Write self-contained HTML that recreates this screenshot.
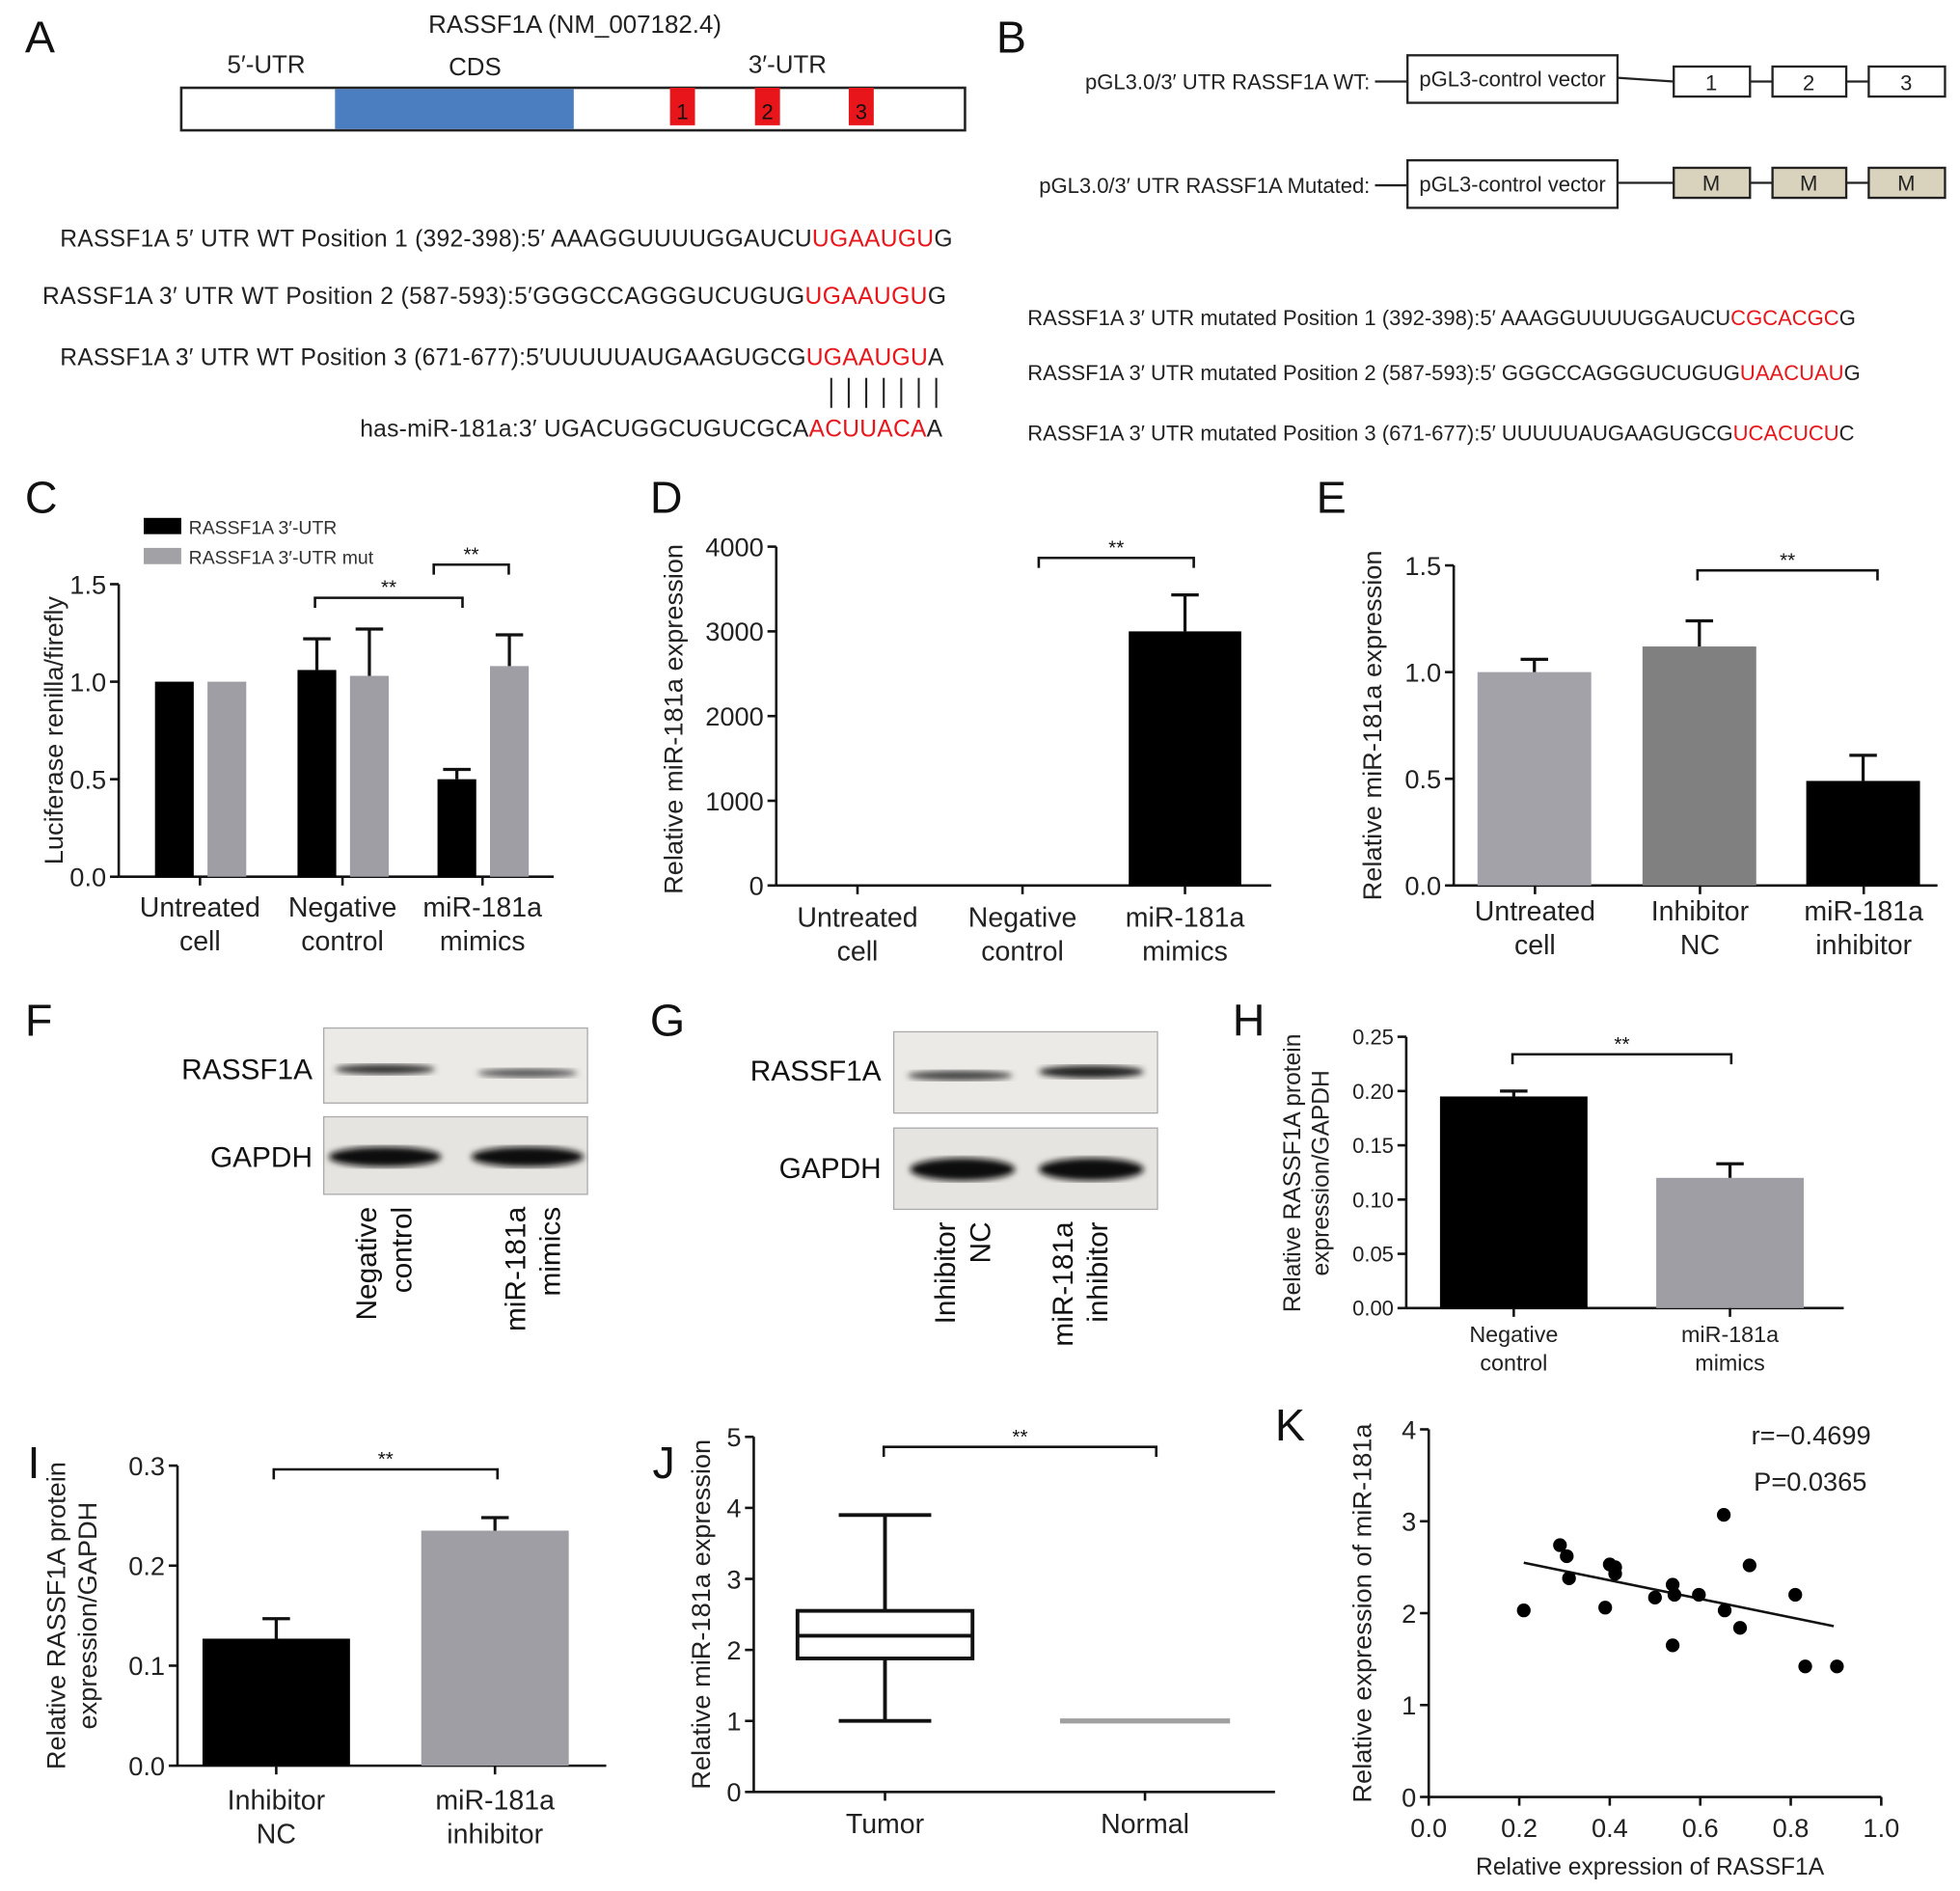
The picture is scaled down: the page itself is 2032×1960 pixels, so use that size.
<!DOCTYPE html>
<html><head><meta charset="utf-8"><style>
html,body{margin:0;padding:0;background:#fff}
svg{display:block;font-family:"Liberation Sans",Arial,sans-serif}
</style></head><body>
<svg id="fig" width="2032" height="1960" viewBox="0 0 1568 1512" xmlns="http://www.w3.org/2000/svg">
<g font-size="36" fill="#111">
<text x="20" y="42">A</text><text x="797" y="42">B</text><text x="20" y="410">C</text><text x="520" y="410">D</text><text x="1053" y="410">E</text>
<text x="20" y="828">F</text><text x="520" y="828">G</text><text x="986" y="828">H</text><text x="22" y="1182">I</text><text x="522" y="1182">J</text><text x="1020" y="1152">K</text>
</g>
<!-- Panel A -->
<g font-size="20" fill="#222">
<text x="460" y="26" text-anchor="middle">RASSF1A (NM_007182.4)</text>
<text x="213" y="58" text-anchor="middle">5′-UTR</text>
<text x="380" y="60" text-anchor="middle">CDS</text>
<text x="630" y="58" text-anchor="middle">3′-UTR</text>
<rect x="145" y="70" width="627" height="34" fill="#fff" stroke="#222" stroke-width="2"/>
<rect x="268" y="71" width="191" height="32" fill="#4a7ec0"/>
<rect x="536" y="70" width="20" height="30" fill="#e8161b"/><text x="546" y="95" text-anchor="middle" font-size="17" fill="#111">1</text>
<rect x="604" y="70" width="20" height="30" fill="#e8161b"/><text x="614" y="95" text-anchor="middle" font-size="17" fill="#111">2</text>
<rect x="679" y="70" width="20" height="30" fill="#e8161b"/><text x="689" y="95" text-anchor="middle" font-size="17" fill="#111">3</text>
<g font-size="19">
<text x="48" y="197" textLength="714" lengthAdjust="spacing">RASSF1A 5′ UTR WT Position 1 (392-398):5′ AAAGGUUUUGGAUCU<tspan fill="#e8161b">UGAAUGU</tspan>G</text>
<text x="34" y="243" textLength="723" lengthAdjust="spacing">RASSF1A 3′ UTR WT Position 2 (587-593):5′GGGCCAGGGUCUGUG<tspan fill="#e8161b">UGAAUGU</tspan>G</text>
<text x="48" y="292" textLength="707" lengthAdjust="spacing">RASSF1A 3′ UTR WT Position 3 (671-677):5′UUUUUAUGAAGUGCG<tspan fill="#e8161b">UGAAUGU</tspan>A</text>
<text x="288" y="349" textLength="466" lengthAdjust="spacing">has-miR-181a:3′ UGACUGGCUGUCGCA<tspan fill="#e8161b">ACUUACA</tspan>A</text>
</g>
<g stroke="#222" stroke-width="1.6">
<line x1="665" y1="302" x2="665" y2="326"/><line x1="679" y1="302" x2="679" y2="326"/><line x1="693" y1="302" x2="693" y2="326"/><line x1="707" y1="302" x2="707" y2="326"/><line x1="721" y1="302" x2="721" y2="326"/><line x1="735" y1="302" x2="735" y2="326"/><line x1="749" y1="302" x2="749" y2="326"/>
</g>
</g>
<!-- Panel B -->
<g font-size="17" fill="#222">
<text x="1096" y="71" text-anchor="end">pGL3.0/3′ UTR RASSF1A WT:</text>
<text x="1096" y="154" text-anchor="end">pGL3.0/3′ UTR RASSF1A Mutated:</text>
<g stroke="#222" stroke-width="1.8" fill="none">
<line x1="1100" y1="65" x2="1126" y2="65"/><line x1="1294" y1="62" x2="1339" y2="65"/><line x1="1400" y1="65" x2="1418" y2="65"/><line x1="1477" y1="65" x2="1495" y2="65"/>
<line x1="1100" y1="148" x2="1126" y2="148"/><line x1="1294" y1="146" x2="1339" y2="146"/><line x1="1400" y1="146" x2="1418" y2="146"/><line x1="1477" y1="146" x2="1495" y2="146"/>
<rect x="1126" y="44" width="168" height="38" fill="#fff"/><rect x="1126" y="128" width="168" height="38" fill="#fff"/>
<rect x="1339" y="53" width="61" height="24" fill="#fff"/><rect x="1418" y="53" width="59" height="24" fill="#fff"/><rect x="1495" y="53" width="61" height="24" fill="#fff"/>
<rect x="1339" y="134" width="61" height="24" fill="#d9d3bd"/><rect x="1418" y="134" width="59" height="24" fill="#d9d3bd"/><rect x="1495" y="134" width="61" height="24" fill="#d9d3bd"/>
</g>
<text x="1210" y="69" text-anchor="middle">pGL3-control vector</text><text x="1210" y="153" text-anchor="middle">pGL3-control vector</text>
<text x="1369" y="72" text-anchor="middle">1</text><text x="1447" y="72" text-anchor="middle">2</text><text x="1525" y="72" text-anchor="middle">3</text>
<text x="1369" y="152" text-anchor="middle">M</text><text x="1447" y="152" text-anchor="middle">M</text><text x="1525" y="152" text-anchor="middle">M</text>
<text x="822" y="260">RASSF1A 3′ UTR mutated Position 1 (392-398):5′  AAAGGUUUUGGAUCU<tspan fill="#e8161b">CGCACGC</tspan>G</text>
<text x="822" y="304">RASSF1A 3′ UTR mutated Position 2 (587-593):5′  GGGCCAGGGUCUGUG<tspan fill="#e8161b">UAACUAU</tspan>G</text>
<text x="822" y="352">RASSF1A 3′ UTR mutated Position 3 (671-677):5′  UUUUUAUGAAGUGCG<tspan fill="#e8161b">UCACUCU</tspan>C</text>
</g>
<!-- Panel F / G blots -->
<defs>
<filter id="blur"><feGaussianBlur stdDeviation="2.5"/></filter>
</defs>
<g font-size="23" fill="#111">
<rect x="259" y="822" width="211" height="60" fill="#eceae6" stroke="#aaa"/>
<rect x="259" y="893" width="211" height="62" fill="#e6e4e0" stroke="#aaa"/>
<ellipse cx="308" cy="855" rx="40" ry="4" fill="#333" filter="url(#blur)"/><ellipse cx="422" cy="858" rx="40" ry="3.5" fill="#555" filter="url(#blur)"/>
<ellipse cx="308" cy="925" rx="45" ry="8" fill="#111" filter="url(#blur)"/><ellipse cx="422" cy="925" rx="45" ry="8" fill="#111" filter="url(#blur)"/>
<text x="250" y="863" text-anchor="end">RASSF1A</text><text x="250" y="933" text-anchor="end">GAPDH</text>
<text transform="translate(301,965) rotate(-90)" text-anchor="end">Negative</text><text transform="translate(329,965) rotate(-90)" text-anchor="end">control</text>
<text transform="translate(420,965) rotate(-90)" text-anchor="end">miR-181a</text><text transform="translate(448,965) rotate(-90)" text-anchor="end">mimics</text>
</g>
<g font-size="23" fill="#111">
<rect x="715" y="825" width="211" height="65" fill="#eceae6" stroke="#aaa"/>
<rect x="715" y="902" width="211" height="65" fill="#e6e4e0" stroke="#aaa"/>
<ellipse cx="768" cy="860" rx="42" ry="4" fill="#444" filter="url(#blur)"/><ellipse cx="873" cy="857" rx="42" ry="5" fill="#222" filter="url(#blur)"/>
<ellipse cx="770" cy="935" rx="42" ry="9" fill="#111" filter="url(#blur)"/><ellipse cx="873" cy="935" rx="42" ry="9" fill="#111" filter="url(#blur)"/>
<text x="705" y="864" text-anchor="end">RASSF1A</text><text x="705" y="942" text-anchor="end">GAPDH</text>
<text transform="translate(764,977) rotate(-90)" text-anchor="end">Inhibitor</text><text transform="translate(792,977) rotate(-90)" text-anchor="end">NC</text>
<text transform="translate(858,977) rotate(-90)" text-anchor="end">miR-181a</text><text transform="translate(886,977) rotate(-90)" text-anchor="end">inhibitor</text>
</g>
<g id="charts"></g>
</svg>
<script>
// ---- data ----
const cCategories=["Untreated|cell","Negative|control","miR-181a|mimics"];
const cUtr=[1.0,1.06,0.5];
const cUtrErr=[1.0,1.22,0.55];
const cMut=[1.0,1.03,1.08];
const cMutErr=[1.0,1.27,1.24];
const cTicks=["0.0","0.5","1.0","1.5"];
const dCategories=["Untreated|cell","Negative|control","miR-181a|mimics"];
const dValues=[1,1,3000];
const dErr=[1,1,3430];
const dTicks=["0","1000","2000","3000","4000"];
const eCategories=["Untreated|cell","Inhibitor|NC","miR-181a|inhibitor"];
const eValues=[1.0,1.12,0.49];
const eErr=[1.06,1.24,0.61];
const eTicks=["0.0","0.5","1.0","1.5"];
const hCategories=["Negative|control","miR-181a|mimics"];
const hValues=[0.195,0.12];
const hErr=[0.2,0.133];
const hTicks=["0.00","0.05","0.10","0.15","0.20","0.25"];
const iCategories=["Inhibitor|NC","miR-181a|inhibitor"];
const iValues=[0.127,0.235];
const iErr=[0.147,0.248];
const iTicks=["0.0","0.1","0.2","0.3"];
const jCategories=["Tumor","Normal"];
const jTumor=[1.0,1.88,2.2,2.55,3.9];
const jNormal=[1.0,1.0,1.0,1.0,1.0];
const jTicks=["0","1","2","3","4","5"];
const kX=[0.21,0.29,0.305,0.31,0.39,0.40,0.412,0.412,0.50,0.539,0.543,0.539,0.597,0.652,0.654,0.688,0.709,0.81,0.832,0.902];
const kY=[2.03,2.74,2.62,2.38,2.06,2.53,2.50,2.43,2.17,2.31,2.20,1.65,2.20,3.07,2.03,1.84,2.52,2.20,1.42,1.42];
const kFit=[2.76,-1.007];
const kFitRange=[0.21,0.895];
const kXTicks=["0.0","0.2","0.4","0.6","0.8","1.0"];
const kYTicks=["0","1","2","3","4"];

const NS="http://www.w3.org/2000/svg";
const root=document.getElementById('charts');
function el(tag,attrs,parent,txt){const e=document.createElementNS(NS,tag);for(const k in attrs)e.setAttribute(k,attrs[k]);if(txt!==undefined)e.textContent=txt;(parent||root).appendChild(e);return e;}
function line(g,x1,y1,x2,y2,w){const l=el('line',{x1,y1,x2,y2,stroke:'#111','stroke-width':w||2},g);return l;}

function axes(g,x0,y0,y1,x1,ticks,ymax,fs,title,titleX,titleY,tfs){
  const sy=v=>y0-(v/ymax)*(y0-y1);
  line(g,x0,y1,x0,y0);line(g,x0,y0,x1,y0);
  ticks.forEach(t=>{const y=sy(parseFloat(t));line(g,x0-7,y,x0,y);
    const tx=el('text',{x:x0-10,y:y+fs*0.36,'text-anchor':'end','font-size':fs,fill:'#222'},g,t);
    
    });
  const f2=tfs||fs;
  if(title){const lines=title.split('|');lines.forEach((s,i)=>{
    const t=el('text',{transform:`translate(${titleX+i*(f2+4)},${titleY}) rotate(-90)`,'text-anchor':'middle','font-size':f2,fill:'#222'},g,s);
    
    });}
  return sy;
}
function xlabels(g,cats,xs,y,fs,tickY){
  cats.forEach((c,i)=>{ if(tickY) line(g,xs[i],tickY,xs[i],tickY+7);
    c.split('|').forEach((s,j)=>{const t=el('text',{x:xs[i],y:y+j*(fs+5),'text-anchor':'middle','font-size':fs,fill:'#222'},g,s);
    
    });});
}
function bar(g,x,w,v,e,sy,fill,name){
  const r=el('rect',{x,y:sy(v),width:w,height:sy(0)-sy(v),fill},g);
  
  
  if(e>v){const cx=x+w/2;line(g,cx,sy(v),cx,sy(e),2.5);line(g,cx-11,sy(e),cx+11,sy(e),2.5);}
}
function bracket(g,x1,x2,y,fs){
  el('path',{d:`M${x1},${y+8}V${y}H${x2}V${y+8}`,fill:'none',stroke:'#111','stroke-width':2},g);
  const t=el('text',{x:(x1+x2)/2,y:y-3,'text-anchor':'middle','font-size':fs||16,fill:'#111'},g,'**');
  
  
}
function grp(name){const g=el('g',{});return g;}

// Panel C
(function(){const g=grp('panel-c-chart');
 const sy=axes(g,95,701,467,443,cTicks,1.5,21,'Luciferase renilla/firefly',50,584);
 const gx=[160,274,386];
 cCategories.forEach((c,i)=>{bar(g,gx[i]-36,31,cUtr[i],cUtrErr[i],sy,'#000','bar-utr');bar(g,gx[i]+6,31,cMut[i],cMutErr[i],sy,'#9e9ea4','bar-utr-mut');});
 xlabels(g,cCategories,gx,733,22,701);
 bracket(g,252,370,sy(1.43),16);bracket(g,347,407,sy(1.6),16);
 const l1=el('rect',{x:115,y:414,width:30,height:13,fill:'#000'},g);
 const l2=el('rect',{x:115,y:438,width:30,height:13,fill:'#a2a2a6'},g);
 const t1=el('text',{x:151,y:427,'font-size':15,fill:'#333'},g,'RASSF1A 3′-UTR');
 const t2=el('text',{x:151,y:451,'font-size':15,fill:'#333'},g,'RASSF1A 3′-UTR mut');
})();
// Panel D
(function(){const g=grp('panel-d-chart');
 const sy=axes(g,621,708,437,1017,dTicks,4000,21,'Relative miR-181a expression',546,575);
 const cx=[686,818,948];
 dCategories.forEach((c,i)=>bar(g,cx[i]-45,90,dValues[i],dErr[i],sy,'#000','bar-d'));
 xlabels(g,dCategories,cx,741,22,708);
 bracket(g,831,955,446,16);
})();
// Panel E
(function(){const g=grp('panel-e-chart');
 const sy=axes(g,1163,708,452,1550,eTicks,1.5,21,'Relative miR-181a expression',1105,580);
 const cx=[1228,1360,1491];const cols=['#a2a2a8','#808080','#000'];
 eCategories.forEach((c,i)=>bar(g,cx[i]-46,91,eValues[i],eErr[i],sy,cols[i],'bar-e'));
 xlabels(g,eCategories,cx,736,22,708);
 bracket(g,1358,1502,456,16);
})();
// Panel H
(function(){const g=grp('panel-h-chart');
 const sy=axes(g,1125,1046,829,1475,hTicks,0.25,17,'Relative RASSF1A protein|expression/GAPDH',1040,938,19);
 const cx=[1211,1384];const cols=['#000','#9e9ea4'];
 hCategories.forEach((c,i)=>bar(g,cx[i]-59,118,hValues[i],hErr[i],sy,cols[i],'bar-h'));
 xlabels(g,hCategories,cx,1073,18,1046);
 bracket(g,1210,1385,843,16);
})();
// Panel I
(function(){const g=grp('panel-i-chart');
 const sy=axes(g,142,1412,1172,485,iTicks,0.3,21,'Relative RASSF1A protein|expression/GAPDH',52,1292);
 const cx=[221,396];const cols=['#000','#9e9ea4'];
 iCategories.forEach((c,i)=>bar(g,cx[i]-59,118,iValues[i],iErr[i],sy,cols[i],'bar-i'));
 xlabels(g,iCategories,cx,1447,22,1412);
 bracket(g,219,398,1175,16);
})();
// Panel J
(function(){const g=grp('panel-j-chart');
 const sy=axes(g,603,1433,1149,1020,jTicks,5,21,'Relative miR-181a expression',568,1291);
 const cx=[708,916];
 xlabels(g,jCategories,cx,1466,22,1433);
 const t=jTumor;
 line(g,cx[0],sy(t[0]),cx[0],sy(t[1]),3);line(g,cx[0],sy(t[3]),cx[0],sy(t[4]),3);
 line(g,cx[0]-37,sy(t[0]),cx[0]+37,sy(t[0]),3);line(g,cx[0]-37,sy(t[4]),cx[0]+37,sy(t[4]),3);
 const b=el('rect',{x:cx[0]-70,y:sy(t[3]),width:140,height:sy(t[1])-sy(t[3]),fill:'#fff',stroke:'#111','stroke-width':3},g);
 
 line(g,cx[0]-70,sy(t[2]),cx[0]+70,sy(t[2]),3);
 const n=el('line',{x1:cx[1]-68,y1:sy(jNormal[2]),x2:cx[1]+68,y2:sy(jNormal[2]),stroke:'#a0a0a0','stroke-width':4},g);
 
 bracket(g,707,925,1157,16);
})();
// Panel K
(function(){const g=grp('panel-k-chart');
 const x0=1143,y0=1437,x1=1505,y1=1143;
 const sx=v=>x0+v*(x1-x0);
 const sy=axes(g,x0,y0,y1,x1,kYTicks,4,21,'Relative expression of miR-181a',1097,1290);
 kXTicks.forEach(t=>{const x=sx(parseFloat(t));line(g,x,y0,x,y0+7);
  const tx=el('text',{x,y:1469,'text-anchor':'middle','font-size':21,fill:'#222'},g,t);
  
  });
 const xt=el('text',{x:1320,y:1499,'text-anchor':'middle','font-size':19,fill:'#222'},g,'Relative expression of RASSF1A');
 
 const fl=el('line',{x1:sx(kFitRange[0]),y1:sy(kFit[0]+kFit[1]*kFitRange[0]),x2:sx(kFitRange[1]),y2:sy(kFit[0]+kFit[1]*kFitRange[1]),stroke:'#111','stroke-width':2},g);
 
 kX.forEach((v,i)=>{const c=el('circle',{cx:sx(v),cy:sy(kY[i]),r:5.5,fill:'#000'},g);
  
  });
 const r=el('text',{x:1401,y:1155,'font-size':21,fill:'#222'},g,'r=−0.4699');
 const p=el('text',{x:1403,y:1192,'font-size':21,fill:'#222'},g,'P=0.0365');
})();
</script>
</body></html>
